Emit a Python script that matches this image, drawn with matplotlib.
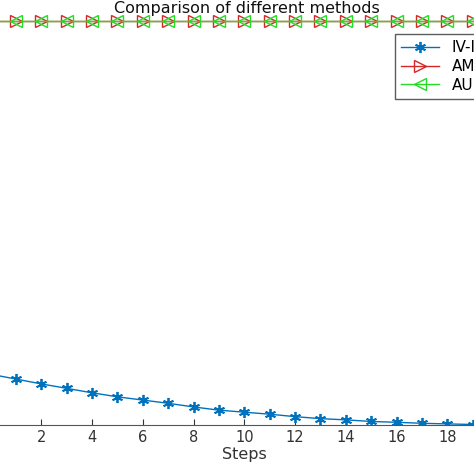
import numpy as np
import matplotlib.pyplot as plt

# data
steps = np.arange(0, 21)
iv_ic = [0.125, 0.113, 0.101, 0.090, 0.079, 0.069, 0.061, 0.053, 0.044, 0.036, 0.031,
         0.026, 0.020, 0.015, 0.012, 0.008, 0.006, 0.0035, 0.002, 0.0005, 0.0002]
am = [1.0] * len(steps)
au = [1.0] * len(steps)

fig = plt.figure(figsize=(4.74, 4.74), dpi=100)
# the reference is a crop: axes run past the left and right edges
ax = fig.add_axes([-0.0198, 0.104, 1.0705, 0.852])

ax.plot(steps, iv_ic, color="#0072BD", marker=(6, 2, 0), markersize=8, mew=1.3,
        lw=1, label="IV-IC")
ax.plot(steps, am, color="#D62728", marker=">", markersize=8, mfc="none", lw=1,
        label="AM", clip_on=False)
ax.plot(steps, au, color="#22DD22", marker="<", markersize=8, mfc="none", lw=1,
        label="AU", clip_on=False)

ax.set_xlim(0, 20)
ax.set_ylim(0, 1)
ax.set_xticks(range(2, 20, 2))
ax.set_yticks([])
for s in ["top", "right", "left"]:
    ax.spines[s].set_visible(False)
ax.spines["bottom"].set_color("#555555")
ax.tick_params(axis="x", direction="in", colors="#333333", labelsize=10.5, length=4)
ax.set_xlabel("Steps", fontsize=11.5, color="#333333", labelpad=2)

fig.text(0.52, 0.983, "Comparison of different methods", ha="center", va="center",
         fontsize=11.5, color="#111111")

fig.legend(loc="upper left", bbox_to_anchor=(395 / 474, 1 - 34 / 474), fontsize=11,
           frameon=True, fancybox=False, edgecolor="#333333", borderaxespad=0,
           handlelength=2.5, labelspacing=0.25)

fig.savefig("out.png", dpi=100)
